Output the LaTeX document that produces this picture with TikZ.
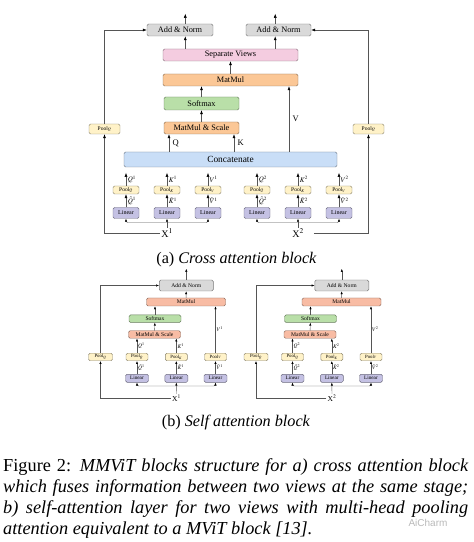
\documentclass[tikz,border=0pt]{standalone}
\usepackage{mathptmx}
\usepackage{fontspec}
\setmainfont{Liberation Serif}
\newfontfamily\wmfont{Liberation Sans}
\usetikzlibrary{arrows.meta,positioning,calc}
\definecolor{normgray}{HTML}{D9D9D9}
\definecolor{sepink}{HTML}{F4CCE0}
\definecolor{mmorange}{HTML}{FBC796}
\definecolor{smgreen}{HTML}{B9DFA8}
\definecolor{catblue}{HTML}{C9DEF7}
\definecolor{poolyellow}{HTML}{FFF2C8}
\definecolor{linpurple}{HTML}{C4C1E3}
\definecolor{salmon}{HTML}{F8BCA4}
\definecolor{edgegray}{HTML}{555555}

\begin{document}
\begin{tikzpicture}[x=1pt, y=1pt,
    blk/.style={draw=#1!55!black, fill=#1, rounded corners=1.5pt, inner sep=0pt, line width=0.45pt},
    abox/.style={blk=#1, minimum height=12pt, font=\fontsize{8.3}{9}\selectfont},
    apool/.style={blk=poolyellow, minimum width=26pt, minimum height=8pt, font=\fontsize{5.5}{6}\selectfont},
    alin/.style={blk=linpurple, minimum width=26pt, minimum height=11pt, font=\fontsize{6}{7}\selectfont},
    bbox/.style={blk=#1, font=\fontsize{5.6}{6}\selectfont},
    bpool/.style={blk=poolyellow, minimum width=22pt, minimum height=7.5pt, font=\fontsize{4.8}{5}\selectfont},
    blin/.style={blk=linpurple, minimum width=23pt, minimum height=8pt, font=\fontsize{5.2}{6}\selectfont},
    arr/.style={draw=edgegray, line width=0.5pt, -{Latex[length=4pt, width=3pt, color=black]}},
    arrs/.style={draw=edgegray, line width=0.4pt, -{Latex[length=3pt, width=2.2pt, color=black]}},
    alab/.style={font=\fontsize{7}{8}\selectfont, inner sep=0.5pt, xshift=1pt},
    blab/.style={font=\fontsize{5.5}{6}\selectfont, inner sep=0.3pt, xshift=0.7pt},
    xlab/.style={font=\fontsize{10}{11}\selectfont, inner sep=1pt}
]
\useasboundingbox (0,0) rectangle (474,542);

% --- (a) cross attention: attention stack ---
\node[abox=normgray, minimum width=66pt] (addL) at (180,512) {Add \& Norm};
\node[abox=normgray, minimum width=65pt] (addR) at (278.5,512) {Add \& Norm};
\node[abox=sepink, minimum width=135pt] (sepv) at (230.5,487) {Separate Views};
\node[abox=mmorange, minimum width=135pt] (mmul) at (230.5,462) {MatMul};
\node[abox=smgreen, minimum width=75pt, minimum height=13pt] (smax) at (201.5,438.5) {Softmax};
\node[abox=mmorange, minimum width=75pt] (mmsc) at (201.5,414) {MatMul \& Scale};
\node[abox=catblue, minimum width=213pt, minimum height=15pt, font=\fontsize{9.4}{10}\selectfont] (cat) at (230.5,382.5) {Concatenate};
\node[apool, minimum width=31pt, minimum height=10pt] (pqL) at (104.5,413) {Pool$_Q$};
\node[apool, minimum width=31pt, minimum height=10pt] (pqR) at (368.5,413) {Pool$_Q$};

\coordinate (oL) at ([xshift=22.5pt]sepv.north west);
\coordinate (oR) at ([xshift=-23pt]sepv.north east);
\coordinate (qin) at ([xshift=-32.5pt]mmsc.south);
\coordinate (kin) at ([xshift=32.5pt]mmsc.south);
\coordinate (vin) at ([xshift=58.5pt]mmul.south);

\draw[arr] (addL.north -| oL) -- ++(0,10);
\draw[arr] (addR.north -| oR) -- ++(0,10);
\draw[arr] (oL) -- (oL |- addL.south);
\draw[arr] (oR) -- (oR |- addR.south);
\draw[arr] (mmul.north) -- (sepv.south);
\draw[arr] (smax.north) -- (smax.north |- mmul.south);
\draw[arr] (mmsc.north) -- (smax.south);
\draw[arr] (qin |- cat.north) -- node[right, font=\fontsize{8.5}{9}\selectfont] {Q} (qin);
\draw[arr] (kin |- cat.north) -- node[right, font=\fontsize{8.5}{9}\selectfont] {K} (kin);
\draw[arr] (vin |- cat.north) -- node[right, font=\fontsize{8.5}{9}\selectfont] {V} (vin);

% --- (a) per-view projections ---
\foreach \vi/\xm in {1/167, 2/298} {
  \node[xlab] (X\vi) at (\xm,309) {X$^{\vi}$};
  \foreach \ltr/\dx/\idx in {Q/-41/1, K/0/2, V/41/3} {
    \node[alin] (lin\vi\idx) at ({\xm+(\dx)},329) {Linear};
    \node[apool] (pool\vi\idx) at ({\xm+(\dx)},352) {Pool$_{\ltr}$};
    \draw[arr] (lin\vi\idx) -- node[right, alab] {$\tilde{\ltr}^{\vi}$} (pool\vi\idx);
    \draw[arr] (pool\vi\idx.north) -- ++(0,13) node[midway, right, alab] {$\ltr^{\vi}$};
  }
  \coordinate (j\vi) at (\xm,319.5);
  \draw[arrs] (X\vi.north) -- (lin\vi2.south);
  \draw[arrs, rounded corners=2pt] (j\vi) -| (lin\vi1.south);
  \draw[arrs, rounded corners=2pt] (j\vi) -| (lin\vi3.south);
}

% --- (a) residual paths ---
\draw[arr] (X1.west) -| (pqL.south);
\draw[arr] (pqL.north) |- (addL.west);
\draw[arr] ([xshift=9pt]X2.east) -| (pqR.south);
\draw[arr] (pqR.north) |- (addR.east);

\node[font=\fontsize{16.2}{19}\selectfont] (capa) at (236.5,282) {(a) \textit{Cross attention block}};

% --- (b) self attention, one block per view ---
\foreach \vi/\sx in {1/0, 2/155.5} {
  \begin{scope}[xshift=\sx pt]
    \node[bbox=normgray, minimum width=54pt, minimum height=11pt] (badd\vi) at (186.3,256.5) {Add \& Norm};
    \node[bbox=salmon, minimum width=79pt, minimum height=8pt] (bmm\vi) at (186,240) {MatMul};
    \node[bbox=smgreen, minimum width=52pt, minimum height=7.5pt] (bsm\vi) at (155,223.3) {Softmax};
    \node[bbox=salmon, minimum width=52pt, minimum height=7.5pt] (bms\vi) at (154.5,207.5) {MatMul \& Scale};
    \node[bpool, minimum width=24pt] (bpq\vi) at (100.5,185) {Pool$_Q$};
    \node[xlab, font=\fontsize{7.5}{8}\selectfont] (bx\vi) at (176.5,143.7) {X$^{\vi}$};
    \foreach \ltr/\xc/\idx in {Q/137/1, K/176.3/2, V/215.5/3} {
      \node[blin] (bl\vi\idx) at (\xc,163.7) {Linear};
      \node[bpool] (bp\vi\idx) at (\xc,185) {Pool$_{\ltr}$};
      \draw[arrs] (bl\vi\idx) -- node[right, blab] {$\tilde{\ltr}^{\vi}$} (bp\vi\idx);
    }
    \draw[arrs] (bp\vi1.north) -- node[right, blab] {$Q^{\vi}$} (bp\vi1.north |- bms\vi.south);
    \draw[arrs] (bp\vi2.north) -- node[right, blab] {$K^{\vi}$} (bp\vi2.north |- bms\vi.south);
    \draw[arrs] (bp\vi3.north) -- node[right, blab] {$V^{\vi}$} (bp\vi3.north |- bmm\vi.south);
    \draw[arrs] (bms\vi) -- (bsm\vi);
    \draw[arrs] (bsm\vi.north) -- (bsm\vi.north |- bmm\vi.south);
    \draw[arrs] (bmm\vi) -- (badd\vi);
    \draw[arrs] (badd\vi.north) -- ++(0,11);
    \coordinate (bj\vi) at (176.5,156);
    \draw[arrs] (bx\vi.north) -- (bl\vi2.south);
    \draw[arrs, rounded corners=1.5pt] (bj\vi) -| (bl\vi1.south);
    \draw[arrs, rounded corners=1.5pt] (bj\vi) -| (bl\vi3.south);
    \draw[arrs] (bx\vi.west) -| (bpq\vi.south);
    \draw[arrs] (bpq\vi.north) |- (badd\vi.west);
  \end{scope}
}

\node[font=\fontsize{16.2}{19}\selectfont] (capb) at (236,119) {(b) \textit{Self attention block}};

% --- figure caption ---
\node[anchor=north west, inner sep=0pt, text width=465pt, align=justify, font=\fontsize{18.3}{21}\selectfont] (figcap) at (3,84)
  {Figure 2: \textit{MMViT blocks structure for a) cross attention block\linebreak
   which fuses information between two views at the same stage;\linebreak
   b) self-attention layer for two views with multi-head pooling\linebreak
   attention equivalent to a MViT block [13].}};
\node[font=\wmfont\fontsize{10}{11}\selectfont, text=gray!55] (wm) at (428,19) {AiCharm};

\end{tikzpicture}
\end{document}
